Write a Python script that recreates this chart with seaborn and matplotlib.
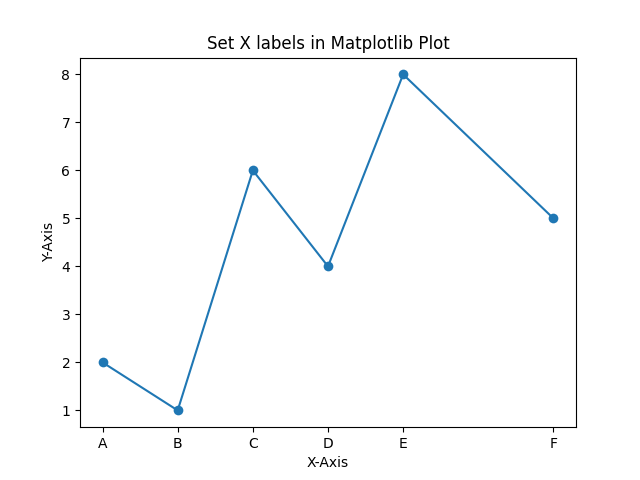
import matplotlib
matplotlib.use("Agg")
import matplotlib.pyplot as plt
import seaborn as sns

# Datos
x_values = [1, 2, 3, 4, 5, 7]
y_values = [2, 1, 6, 4, 8, 5]
x_labels = ["A", "B", "C", "D", "E", "F"]

fig, ax = plt.subplots(figsize=(6.4, 4.8), dpi=100)
sns.lineplot(x=x_values, y=y_values, marker="o", markersize=7,
             markeredgewidth=0, color="#1f77b4", linewidth=1.5, ax=ax)

ax.set_xticks(x_values)
ax.set_xticklabels(x_labels)
ax.set_title("Set X labels in Matplotlib Plot")
ax.set_xlabel("X-Axis")
ax.set_ylabel("Y-Axis")

fig.savefig("out.png")
